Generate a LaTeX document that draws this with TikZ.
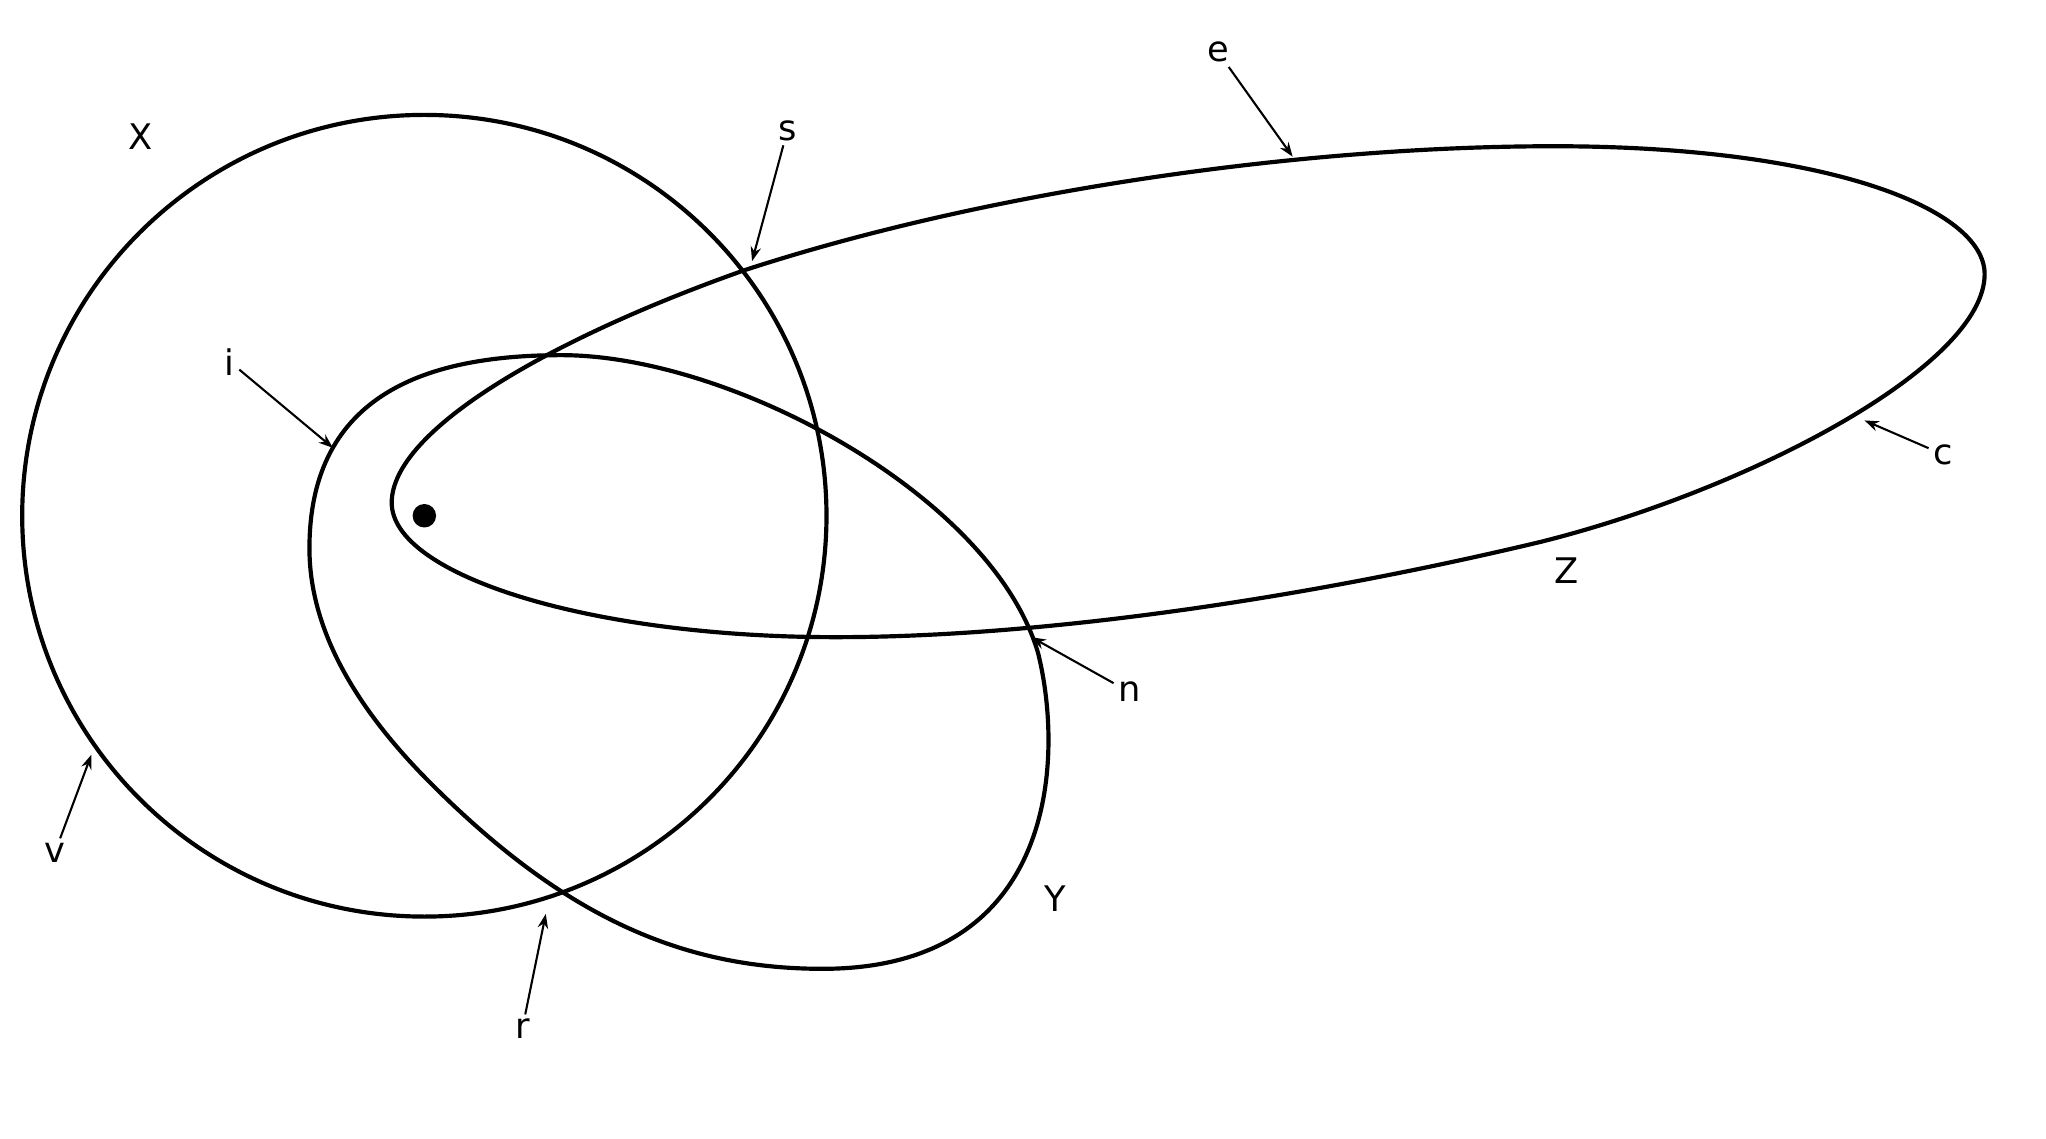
\documentclass[tikz,border=0pt]{standalone}
\usepackage{fontspec}
\setmainfont{DejaVu Sans}
\usetikzlibrary{arrows.meta}
\begin{document}
\begin{tikzpicture}[x=1pt,y=-1pt,
  curve/.style={line width=3.2pt},
  lab/.style={font=\fontsize{27}{29}\selectfont},
  ptr/.style={line width=1.6pt,-{Stealth[length=11pt,width=8pt]}}]
\useasboundingbox (0,0) rectangle (1567,872);
% X
\draw[curve] (325,395) ellipse [x radius=308, y radius=307];
% Z
\draw[curve] (300,385) .. controls (300,330) and (420,260) .. (570,207)
  .. controls (760,145) and (1000,112) .. (1190,112)
  .. controls (1400,112) and (1520,160) .. (1520,210)
  .. controls (1520,280) and (1340,375) .. (1180,415)
  .. controls (1000,458) and (800,488) .. (640,488)
  .. controls (450,488) and (300,440) .. (300,385) -- cycle;
% Y
\draw[curve] (237,420) .. controls (237,300) and (330,272) .. (430,272)
  .. controls (560,272) and (760,380) .. (795,500)
  .. controls (815,580) and (810,742) .. (630,742)
  .. controls (520,742) and (430,700) .. (330,600)
  .. controls (270,540) and (237,480) .. (237,420) -- cycle;
\fill (325,395) circle (9);
\node[lab] (lX) at (108,105) {X};
\node[lab] (ls) at (603,100) {s};
\node[lab] (le) at (933,40) {e};
\node[lab] (li) at (176,277) {i};
\node[lab] (lc) at (1488,348) {c};
\node[lab] (lZ) at (1200,437) {Z};
\node[lab] (ln) at (865,530) {n};
\node[lab] (lY) at (808,688) {Y};
\node[lab] (lv) at (42,653) {v};
\node[lab] (lr) at (400,788) {r};
\coordinate (ts) at (576,200);
\coordinate (te) at (990,120);
\coordinate (ti) at (255,343);
\coordinate (tc) at (1428,322);
\coordinate (tn) at (790,488);
\coordinate (tv) at (70,578);
\coordinate (tr) at (418,700);
\draw[ptr] (ls) -- (ts);
\draw[ptr] (le) -- (te);
\draw[ptr] (li) -- (ti);
\draw[ptr] (lc) -- (tc);
\draw[ptr] (ln) -- (tn);
\draw[ptr] (lv) -- (tv);
\draw[ptr] (lr) -- (tr);
\end{tikzpicture}
\end{document}
